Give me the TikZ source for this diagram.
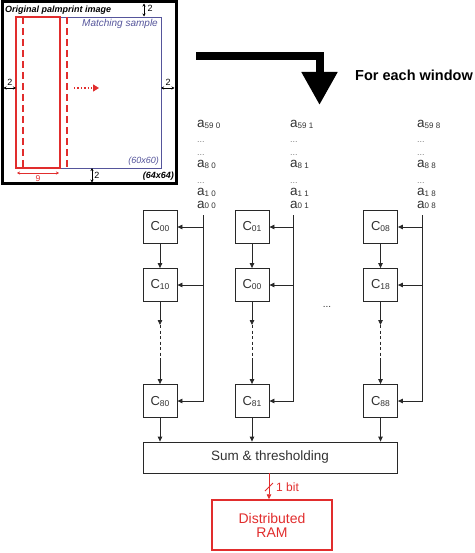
\documentclass[tikz,border=0pt]{standalone}
\usepackage{fontspec}
\setmainfont{Liberation Sans}
\usetikzlibrary{arrows.meta}

\definecolor{frameblue}{RGB}{85,85,155}
\definecolor{winred}{RGB}{225,45,45}
\definecolor{txtgray}{RGB}{50,50,50}
\definecolor{boxgray}{RGB}{40,40,40}

\newcommand{\fsz}[1]{\fontsize{#1}{#1}\selectfont}
\newcommand{\alab}[1]{{\fsz{13.5}a}\raisebox{-0.7pt}{\fsz{8}#1}}
\newcommand{\clab}[1]{{\fsz{13}C}\raisebox{-1pt}{\fsz{8.5}#1}}

\tikzset{
  cell/.style={draw=boxgray, line width=0.8pt, minimum width=34pt, minimum height=33pt, inner sep=0pt, text=txtgray},
  alabel/.style={anchor=base west, inner sep=0pt, text=txtgray},
  dotlabel/.style={anchor=base west, inner sep=0pt, text=gray, font=\fsz{9}},
  flow/.style={-{Triangle[length=5pt,width=4.5pt]}, line width=0.8pt, draw=boxgray},
  dimline/.style={{Stealth[length=3pt,width=3pt]}-{Stealth[length=3pt,width=3pt]}, line width=0.7pt},
}

\begin{document}
\begin{tikzpicture}[x=1pt,y=-1pt]
\useasboundingbox (0,0) rectangle (474,553);

% original image with the window
\draw[line width=3pt] (2,2) rectangle (176,184);
\draw[frameblue, line width=0.8pt] (16,17) rectangle (161,168);
\draw[winred, line width=2pt] (16,17) rectangle (60,168);
\draw[winred, line width=2pt, dash pattern=on 7pt off 4pt] (23,17) -- (23,168);
\draw[winred, line width=2pt, dash pattern=on 7pt off 4pt] (67,17) -- (67,168);
\draw[winred, line width=1.4pt, dotted, -{Triangle[length=6pt,width=7pt]}] (74,88) -- (99,88);
\node[anchor=west, inner sep=0pt, font=\fsz{9}\bfseries\itshape] (title) at (5,10) {Original palmprint image};
\node[anchor=east, inner sep=0pt, text=frameblue, font=\fsz{10}\itshape] (sample) at (158,24) {Matching sample};
\node[anchor=east, inner sep=0pt, text=frameblue, font=\fsz{9}\itshape] (size60) at (159,161) {(60x60)};
\node[anchor=east, inner sep=0pt, font=\fsz{9}\bfseries\itshape] (size64) at (174,176) {(64x64)};
\draw[dimline] (144,3.5) -- (144,16.5);
\node[font=\fsz{9}] (dtop) at (150,8) {2};
\draw[dimline] (3.5,88) -- (16,88);
\node[font=\fsz{9}] (dleft) at (10,82) {2};
\draw[dimline] (161,88) -- (174.5,88);
\node[font=\fsz{9}] (dright) at (168,82) {2};
\draw[dimline] (92,168) -- (92,182.5);
\node[font=\fsz{9}] (dbottom) at (97,175) {2};
\draw[dimline, winred] (17,173) -- (59,173);
\node[text=winred, font=\fsz{8.5}] (nine) at (38,179) {9};

% big arrow
\coordinate (bigstart) at (196,56);
\coordinate (bigtip) at (319.5,105);
\draw[line width=8pt, -{Triangle[length=33pt,width=34pt]}] (bigstart) -| (bigtip);
\node[anchor=west, inner sep=0pt, font=\fsz{14.5}\bfseries] (foreach) at (355,75) {For each window};

% inputs
\node[alabel] (a590) at (197,128) {\alab{59 0}};
\node[dotlabel] (d0a) at (197,143) {...};
\node[dotlabel] (d0b) at (197,156) {...};
\node[alabel] (a80) at (197,168) {\alab{8 0}};
\node[dotlabel] (d0c) at (197,183) {...};
\node[alabel] (a10) at (197,196) {\alab{1 0}};
\node[alabel] (a00) at (197,208) {\alab{0 0}};

\node[alabel] (a591) at (290,128) {\alab{59 1}};
\node[dotlabel] (d1a) at (290,143) {...};
\node[dotlabel] (d1b) at (290,156) {...};
\node[alabel] (a81) at (290,168) {\alab{8 1}};
\node[dotlabel] (d1c) at (290,183) {...};
\node[alabel] (a11) at (290,196) {\alab{1 1}};
\node[alabel] (a01) at (290,208) {\alab{0 1}};

\node[alabel] (a598) at (417,128) {\alab{59 8}};
\node[dotlabel] (d8a) at (417,143) {...};
\node[dotlabel] (d8b) at (417,156) {...};
\node[alabel] (a88) at (417,168) {\alab{8 8}};
\node[dotlabel] (d8c) at (417,183) {...};
\node[alabel] (a18) at (417,196) {\alab{1 8}};
\node[alabel] (a08) at (417,208) {\alab{0 8}};

% cells
\node[cell] (c00) at (160,227) {\clab{00}};
\node[cell] (c10) at (160,285) {\clab{10}};
\node[cell] (c80) at (160,401) {\clab{80}};
\node[cell] (c01) at (252,227) {\clab{01}};
\node[cell] (c11) at (252,285) {\clab{00}};
\node[cell] (c81) at (252,401) {\clab{81}};
\node[cell] (c08) at (380.5,227) {\clab{08}};
\node[cell] (c18) at (380.5,285) {\clab{18}};
\node[cell] (c88) at (380.5,401) {\clab{88}};
\node[text=txtgray, font=\fsz{10}] (coldots) at (327,307) {...};

\node[draw=boxgray, line width=0.8pt, minimum width=254pt, minimum height=31pt, inner sep=0pt, font=\fsz{13.5}, text=txtgray] (sum) at (270,457.5) {Sum \& thresholding};
\node[draw=winred, line width=1.5pt, minimum width=120pt, minimum height=50pt, inner sep=0pt, align=center, font=\fsz{14}, text=winred] (ram) at (272,525) {Distributed\\RAM};

% column 0
\coordinate (top0) at (203,215);
\coordinate (bot0) at (203,401);
\coordinate (mid0a) at (160,325);
\coordinate (mid0b) at (160,358);
\draw[flow] (top0) -- (bot0) -- (c80.east);
\draw[flow] (top0 |- c00.east) -- (c00.east);
\draw[flow] (top0 |- c10.east) -- (c10.east);
\draw[flow] (c00) -- (c10);
\draw[flow] (c10) -- (mid0a);
\draw[line width=0.8pt, draw=boxgray, dash pattern=on 3pt off 2.5pt] (mid0a) -- (mid0b);
\draw[flow] (mid0b) -- (c80);
\draw[flow] (c80) -- (c80 |- sum.north);

% column 1
\coordinate (top1) at (293,215);
\coordinate (bot1) at (293,401);
\coordinate (mid1a) at (252,325);
\coordinate (mid1b) at (252,358);
\draw[flow] (top1) -- (bot1) -- (c81.east);
\draw[flow] (top1 |- c01.east) -- (c01.east);
\draw[flow] (top1 |- c11.east) -- (c11.east);
\draw[flow] (c01) -- (c11);
\draw[flow] (c11) -- (mid1a);
\draw[line width=0.8pt, draw=boxgray, dash pattern=on 3pt off 2.5pt] (mid1a) -- (mid1b);
\draw[flow] (mid1b) -- (c81);
\draw[flow] (c81) -- (c81 |- sum.north);

% column 8
\coordinate (top8) at (422,215);
\coordinate (bot8) at (422,401);
\coordinate (mid8a) at (380.5,325);
\coordinate (mid8b) at (380.5,358);
\draw[flow] (top8) -- (bot8) -- (c88.east);
\draw[flow] (top8 |- c08.east) -- (c08.east);
\draw[flow] (top8 |- c18.east) -- (c18.east);
\draw[flow] (c08) -- (c18);
\draw[flow] (c18) -- (mid8a);
\draw[line width=0.8pt, draw=boxgray, dash pattern=on 3pt off 2.5pt] (mid8a) -- (mid8b);
\draw[flow] (mid8b) -- (c88);
\draw[flow] (c88) -- (c88 |- sum.north);

% output
\coordinate (slash) at (269,487);
\draw[flow, draw=winred] (sum.south -| slash) -- (ram.north -| slash);
\draw[winred, line width=0.8pt] (slash) ++(-4,4) -- ++(8,-8);
\node[anchor=west, inner sep=0pt, text=winred, font=\fsz{12}] (bits) at (276,487) {1 bit};
\end{tikzpicture}
\end{document}
